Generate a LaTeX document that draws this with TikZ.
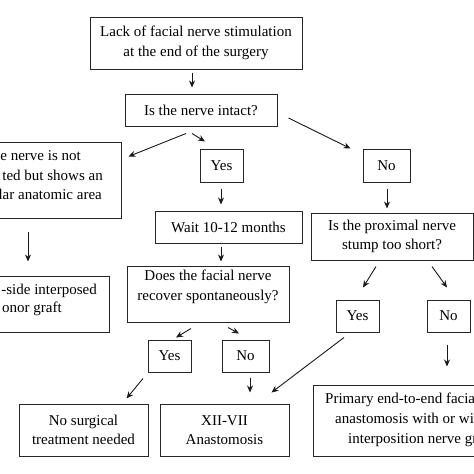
\documentclass[tikz,border=0pt]{standalone}
\usepackage{fontspec}
\setmainfont{Liberation Serif}
\usetikzlibrary{calc,arrows.meta}
\begin{document}
\begin{tikzpicture}[x=1pt,y=-1pt,
  txt/.style={inner sep=0pt,align=center,font=\fontsize{15}{19.5}\selectfont},
  box/.style={txt,draw=black!85,line width=1pt},
  frag/.style={inner sep=0pt,font=\fontsize{15}{19.5}\selectfont},
  arr/.style={draw=black!90,line width=0.9pt,-{Stealth[length=7pt,width=6pt]}}]
\useasboundingbox (0,0) rectangle (474,474);
\fill[white] (0,0) rectangle (474,474);
\clip (0,0) rectangle (474,474);
% boxes
\node[box,minimum width=212pt,minimum height=52pt] (top) at (196,43) {Lack of facial nerve stimulation\\at the end of the surgery};
\node[box,minimum width=152pt,minimum height=32pt] (intact) at (201,110) {Is the nerve intact?};
\node[box,minimum width=182pt,minimum height=76pt] (leftA) at (30,180) {};
\node[frag,anchor=base east] (la1) at (81,160) {e nerve is not};
\node[frag,anchor=base east] (la2) at (103,180) {ted but shows an};
\node[frag,anchor=base east] (la3) at (102,199) {lar anatomic area};
\node[box,minimum width=169pt,minimum height=56pt] (leftB) at (24.5,304) {};
\node[frag,anchor=base east] (lb1) at (97,294) {-side interposed};
\node[frag,anchor=base east] (lb2) at (62,312) {onor graft};
\node[box,minimum width=43pt,minimum height=33pt] (yes1) at (221.5,165.5) {Yes};
\node[box,minimum width=47pt,minimum height=33pt] (no1) at (386.5,165.5) {No};
\node[box,minimum width=147pt,minimum height=32pt] (wait) at (228.5,227) {Wait 10-12 months};
\node[box,minimum width=162pt,minimum height=47pt] (prox) at (392,236.5) {Is the proximal nerve\\stump too short?};
\node[box,minimum width=162pt,minimum height=56pt] (does) at (208,294) {};
\node[txt] (doestext) at (208,287) {Does the facial nerve\\recover spontaneously?};
\node[box,minimum width=43pt,minimum height=32pt] (yes2) at (169.5,356) {Yes};
\node[box,minimum width=47pt,minimum height=32pt] (no2) at (245.5,356) {No};
\node[box,minimum width=43pt,minimum height=32pt] (yes3) at (357.5,316) {Yes};
\node[box,minimum width=43pt,minimum height=32pt] (no3) at (448.5,316) {No};
\node[box,minimum width=129pt,minimum height=52pt] (nosurg) at (83.5,430) {No surgical\\treatment needed};
\node[box,minimum width=129pt,minimum height=52pt] (xii) at (224.5,430) {XII-VII\\Anastomosis};
\node[box,minimum width=240pt,minimum height=71pt] (primary) at (433,420.5) {};
\node[frag,anchor=base west] (p1) at (325,403) {Primary end-to-end facia};
\node[frag,anchor=base west] (p2) at (335,423) {anastomosis with or wi};
\node[frag,anchor=base west] (p3) at (348,443) {interposition nerve gr};
% arrows
\draw[arr] ($(top.south)+(-4,3)$) -- ($(intact.north)+(-9,-6)$);
\draw[arr] ($(intact.south)+(-15,7)$) -- ($(leftA.north east)+(7,15)$);
\draw[arr] ($(intact.south)+(-9,7)$) -- ($(yes1.north)+(-16.5,-7)$);
\draw[arr] ($(intact.east)+(11,8)$) -- ($(no1.north west)+(-12,0)$);
\draw[arr] ($(leftA.south)+(-2,13)$) -- ($(leftB.north)+(3.5,-14)$);
\draw[arr] ($(yes1.south)+(-0.5,6)$) -- ($(wait.north)+(-7.5,-6)$);
\draw[arr] ($(no1.south)+(0.5,6)$) -- ($(prox.north)+(-5,-4)$);
\draw[arr] ($(wait.south)+(-7.5,3)$) -- ($(does.north)+(13,-4)$);
\draw[arr] ($(does.south)+(-17,6)$) -- ($(yes2.north)+(6.5,-2)$);
\draw[arr] ($(does.south)+(20,5)$) -- ($(no2.north)+(-6.5,-6)$);
\draw[arr] ($(prox.south)+(-16,6)$) -- ($(yes3.north)+(5.5,-12)$);
\draw[arr] ($(prox.south)+(40,6)$) -- ($(no3.north)+(-1.5,-12)$);
\draw[arr] ($(yes2.south)+(-26.5,6)$) -- ($(nosurg.north east)+(-22,-5)$);
\draw[arr] ($(no2.south)+(4.5,5)$) -- ($(xii.north)+(25.5,-11)$);
\draw[arr] ($(yes3.south)+(-13.5,5)$) -- ($(xii.north east)+(-18,-11)$);
\draw[arr] ($(no3.south)+(-1.5,12)$) -- ($(primary.north)+(14,-18)$);
\end{tikzpicture}
\end{document}
